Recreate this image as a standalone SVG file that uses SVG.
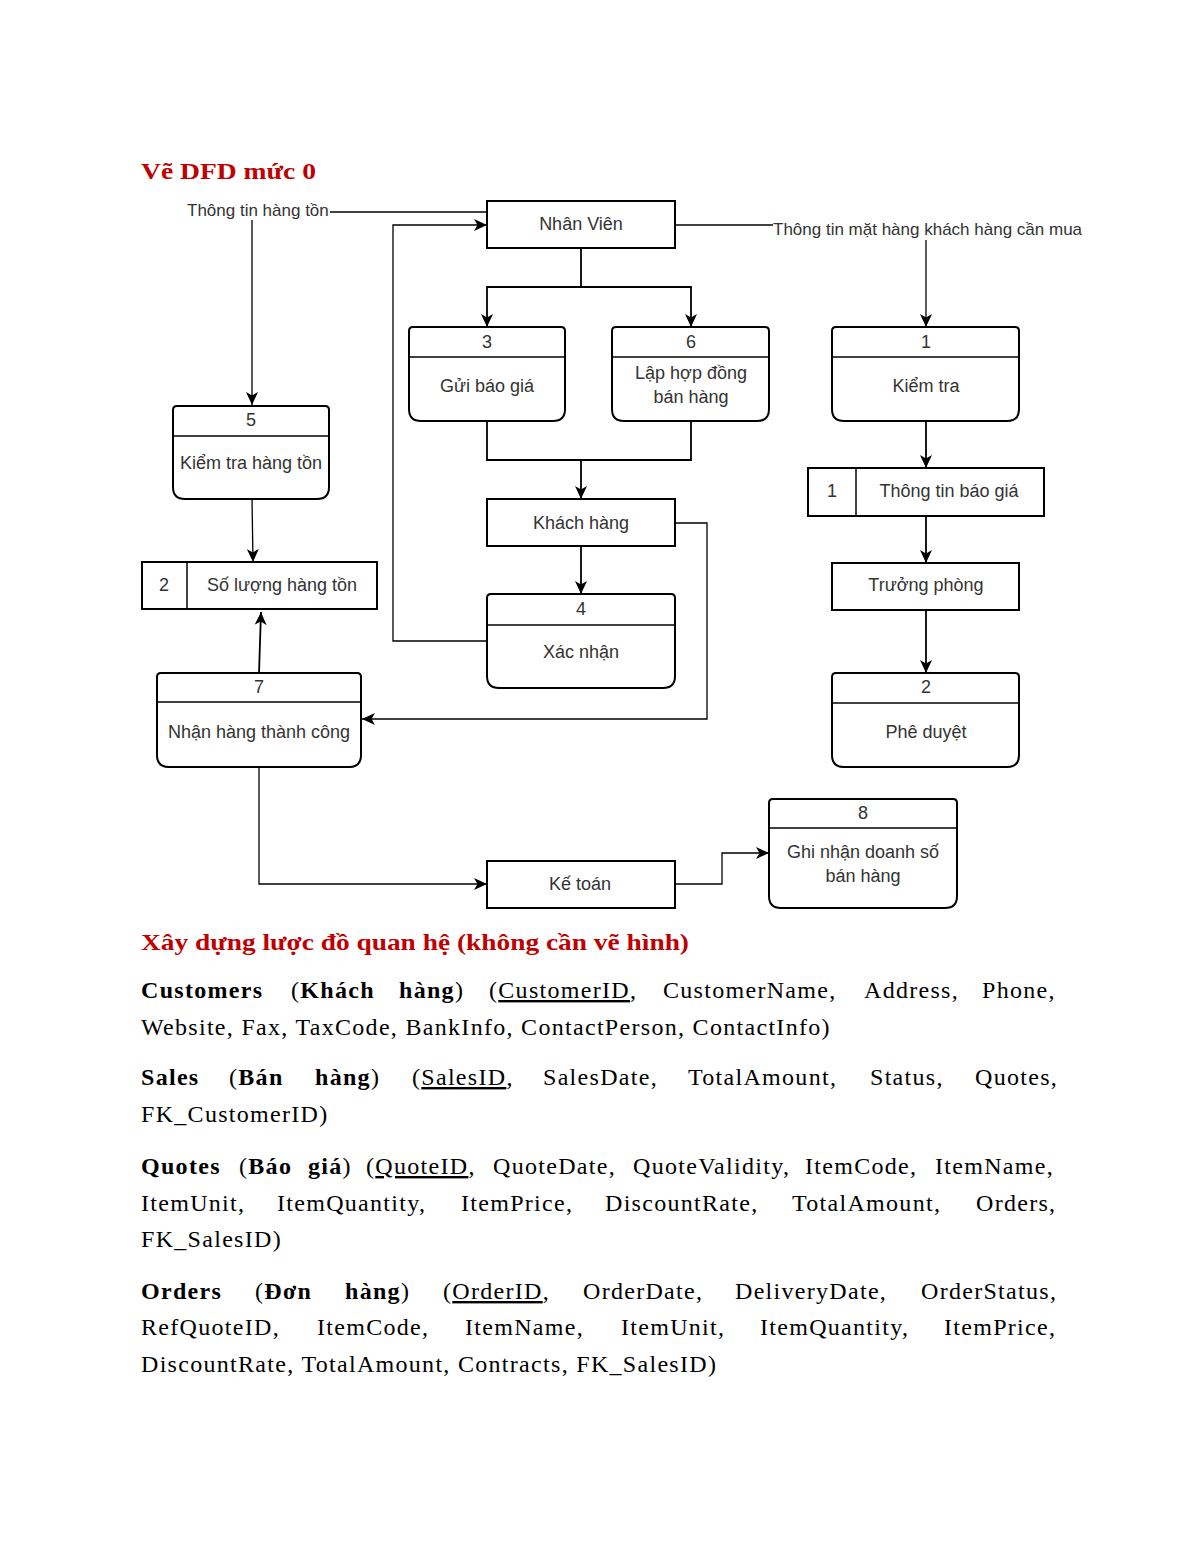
<svg xmlns="http://www.w3.org/2000/svg" width="1200" height="1553" viewBox="0 0 1200 1553">
<style>
.box{fill:#fff;stroke:#000;stroke-width:2}
.div{stroke:#000;stroke-width:1.5;fill:none}
.t{font-family:"Liberation Sans",Arial,sans-serif;font-size:18px;fill:#333;text-anchor:middle;dominant-baseline:central}
.lbl{font-family:"Liberation Sans",Arial,sans-serif;font-size:17px;fill:#333;dominant-baseline:central}
.c{fill:none;stroke:#000;stroke-width:1.8}
.cl{fill:none;stroke:#000;stroke-width:1.3}
.h{font-family:"Liberation Serif","Times New Roman",serif;font-size:24px;font-weight:bold;fill:#c00000}
.p{font-family:"Liberation Serif","Times New Roman",serif;font-size:24px;fill:#000;letter-spacing:1.3px}
.b{font-weight:bold}
.u{text-decoration:underline}
</style>
<defs>
<marker id="arr" markerUnits="userSpaceOnUse" markerWidth="14" markerHeight="12" refX="13" refY="6" orient="auto">
<path d="M0,0 L13,6 L0,12 L3.5,6 Z" fill="#000"/>
</marker>
</defs>

<text class="h" x="141" y="179" textLength="175" lengthAdjust="spacingAndGlyphs">Vẽ DFD mức 0</text>

<g id="connectors">
<path class="cl" d="M330,212 H487"/>
<path class="cl" d="M252,220 V405" marker-end="url(#arr)"/>
<path class="cl" d="M675,225 H773"/>
<path class="cl" d="M926,240 V327" marker-end="url(#arr)"/>
<path class="c" d="M581,248 V287 H487 V327" marker-end="url(#arr)"/>
<path class="c" d="M581,287 H691 V327" marker-end="url(#arr)"/>
<path class="c" d="M487,421 V460 H581 V499" marker-end="url(#arr)"/>
<path class="c" d="M691,421 V460 H581"/>
<path class="c" d="M581,546 V594" marker-end="url(#arr)"/>
<path class="cl" d="M487,641 H393 V225 H487" marker-end="url(#arr)"/>
<path class="cl" d="M675,523 H707 V719 H362" marker-end="url(#arr)"/>
<path class="cl" d="M252,499 L253,562" marker-end="url(#arr)"/>
<path class="c" d="M259,673 L261,612" marker-end="url(#arr)"/>
<path class="cl" d="M259,767 V884 H487" marker-end="url(#arr)"/>
<path class="cl" d="M675,884 H722 V853 H769" marker-end="url(#arr)"/>
<path class="c" d="M926,421 V468" marker-end="url(#arr)"/>
<path class="c" d="M926,516 V563" marker-end="url(#arr)"/>
<path class="c" d="M926,610 V673" marker-end="url(#arr)"/>
<text class="lbl" x="187" y="210">Thông tin hàng tồn</text>
<text class="lbl" x="773" y="229">Thông tin mặt hàng khách hàng cần mua</text>
</g>

<g id="nhan-vien">
<rect class="box" x="487" y="201" width="188" height="47"/>
<text class="t" x="581" y="224">Nhân Viên</text>
</g>

<g id="p3">
<path class="box" d="M409,331 Q409,327 413,327 H561 Q565,327 565,331 V409 Q565,421 553,421 H421 Q409,421 409,409 Z"/>
<path class="div" d="M409,357 H565"/>
<text class="t" x="487" y="342">3</text>
<text class="t" x="487" y="386">Gửi báo giá</text>
</g>

<g id="p6">
<path class="box" d="M612,331 Q612,327 616,327 H765 Q769,327 769,331 V409 Q769,421 757,421 H624 Q612,421 612,409 Z"/>
<path class="div" d="M612,357 H769"/>
<text class="t" x="691" y="342">6</text>
<text class="t" x="691" y="373">Lập hợp đồng</text>
<text class="t" x="691" y="397">bán hàng</text>
</g>

<g id="p1">
<path class="box" d="M832,331 Q832,327 836,327 H1015 Q1019,327 1019,331 V409 Q1019,421 1007,421 H844 Q832,421 832,409 Z"/>
<path class="div" d="M832,357 H1019"/>
<text class="t" x="926" y="342">1</text>
<text class="t" x="926" y="386">Kiểm tra</text>
</g>

<g id="p5">
<path class="box" d="M173,410 Q173,406 177,406 H325 Q329,406 329,410 V487 Q329,499 317,499 H185 Q173,499 173,487 Z"/>
<path class="div" d="M173,436 H329"/>
<text class="t" x="251" y="420">5</text>
<text class="t" x="251" y="463">Kiểm tra hàng tồn</text>
</g>

<g id="khach-hang">
<rect class="box" x="487" y="499" width="188" height="47"/>
<text class="t" x="581" y="523">Khách hàng</text>
</g>

<g id="ds1">
<rect class="box" x="808" y="468" width="236" height="48"/>
<path class="div" d="M856,468 V516"/>
<text class="t" x="832" y="491">1</text>
<text class="t" x="949" y="491">Thông tin báo giá</text>
</g>

<g id="ds2">
<rect class="box" x="142" y="562" width="235" height="47"/>
<path class="div" d="M187,562 V609"/>
<text class="t" x="164" y="585">2</text>
<text class="t" x="282" y="585">Số lượng hàng tồn</text>
</g>

<g id="truong-phong">
<rect class="box" x="832" y="563" width="187" height="47"/>
<text class="t" x="926" y="585">Trưởng phòng</text>
</g>

<g id="p4">
<path class="box" d="M487,598 Q487,594 491,594 H671 Q675,594 675,598 V676 Q675,688 663,688 H499 Q487,688 487,676 Z"/>
<path class="div" d="M487,625 H675"/>
<text class="t" x="581" y="609">4</text>
<text class="t" x="581" y="652">Xác nhận</text>
</g>

<g id="p7">
<path class="box" d="M157,677 Q157,673 161,673 H357 Q361,673 361,677 V755 Q361,767 349,767 H169 Q157,767 157,755 Z"/>
<path class="div" d="M157,702 H361"/>
<text class="t" x="259" y="687">7</text>
<text class="t" x="259" y="732">Nhận hàng thành công</text>
</g>

<g id="p2">
<path class="box" d="M832,677 Q832,673 836,673 H1015 Q1019,673 1019,677 V755 Q1019,767 1007,767 H844 Q832,767 832,755 Z"/>
<path class="div" d="M832,703 H1019"/>
<text class="t" x="926" y="687">2</text>
<text class="t" x="926" y="732">Phê duyệt</text>
</g>

<g id="ke-toan">
<rect class="box" x="487" y="861" width="188" height="47"/>
<text class="t" x="580" y="884">Kế toán</text>
</g>

<g id="p8">
<path class="box" d="M769,803 Q769,799 773,799 H953 Q957,799 957,803 V896 Q957,908 945,908 H781 Q769,908 769,896 Z"/>
<path class="div" d="M769,828 H957"/>
<text class="t" x="863" y="813">8</text>
<text class="t" x="863" y="852">Ghi nhận doanh số</text>
<text class="t" x="863" y="876">bán hàng</text>
</g>

<text class="h" x="141" y="950" textLength="548" lengthAdjust="spacingAndGlyphs">Xây dựng lược đồ quan hệ (không cần vẽ hình)</text>

<text class="p" y="998"><tspan x="141" class="b">Customers</tspan><tspan x="291">(<tspan class="b">Khách</tspan></tspan><tspan x="399" class="b">hàng</tspan>)<tspan x="489">(<tspan class="u">CustomerID</tspan>,</tspan><tspan x="663">CustomerName,</tspan><tspan x="864">Address,</tspan><tspan x="982">Phone,</tspan></text>
<text class="p" x="141" y="1035">Website, Fax, TaxCode, BankInfo, ContactPerson, ContactInfo)</text>

<text class="p" y="1085"><tspan x="141" class="b">Sales</tspan><tspan x="229">(<tspan class="b">Bán</tspan></tspan><tspan x="315" class="b">hàng</tspan>)<tspan x="412">(<tspan class="u">SalesID</tspan>,</tspan><tspan x="543">SalesDate,</tspan><tspan x="688">TotalAmount,</tspan><tspan x="870">Status,</tspan><tspan x="975">Quotes,</tspan></text>
<text class="p" x="141" y="1122">FK_CustomerID)</text>

<text class="p" y="1174"><tspan x="141" class="b">Quotes</tspan><tspan x="239">(<tspan class="b">Báo</tspan></tspan><tspan x="308" class="b">giá</tspan>)<tspan x="366">(<tspan class="u">QuoteID</tspan>,</tspan><tspan x="493">QuoteDate,</tspan><tspan x="633">QuoteValidity,</tspan><tspan x="805">ItemCode,</tspan><tspan x="935">ItemName,</tspan></text>
<text class="p" y="1211"><tspan x="141">ItemUnit,</tspan><tspan x="277">ItemQuantity,</tspan><tspan x="461">ItemPrice,</tspan><tspan x="605">DiscountRate,</tspan><tspan x="792">TotalAmount,</tspan><tspan x="976">Orders,</tspan></text>
<text class="p" x="141" y="1247">FK_SalesID)</text>

<text class="p" y="1299"><tspan x="141" class="b">Orders</tspan><tspan x="255">(<tspan class="b">Đơn</tspan></tspan><tspan x="345" class="b">hàng</tspan>)<tspan x="443">(<tspan class="u">OrderID</tspan>,</tspan><tspan x="583">OrderDate,</tspan><tspan x="735">DeliveryDate,</tspan><tspan x="921">OrderStatus,</tspan></text>
<text class="p" y="1335"><tspan x="141">RefQuoteID,</tspan><tspan x="317">ItemCode,</tspan><tspan x="465">ItemName,</tspan><tspan x="621">ItemUnit,</tspan><tspan x="760">ItemQuantity,</tspan><tspan x="944">ItemPrice,</tspan></text>
<text class="p" x="141" y="1372">DiscountRate, TotalAmount, Contracts, FK_SalesID)</text>
</svg>
